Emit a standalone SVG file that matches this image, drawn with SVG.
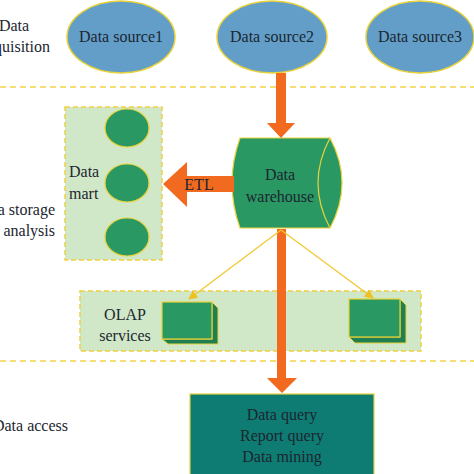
<svg xmlns="http://www.w3.org/2000/svg" width="474" height="474" viewBox="0 0 474 474">
<defs>
<style>
.t{font-size:16px;fill:#1c2630}
.src{fill:#639ec9;stroke:#e8d23a;stroke-width:1.5}
.grp{fill:#d1e8c8;stroke:#f0d040;stroke-width:1.5;stroke-dasharray:5,3}
.g{fill:#2a9863;stroke:#e8d23a;stroke-width:1.2}
.sep{stroke:#f2d24a;stroke-width:1.3;stroke-dasharray:6,4;fill:none}
.or{fill:#f26a1f}
.yl{stroke:#f0c830;stroke-width:1.3;fill:none}
</style>
<marker id="ya" viewBox="0 0 10 10" refX="9" refY="5" markerWidth="7" markerHeight="7" orient="auto">
<path d="M0,0 L10,5 L0,10 z" fill="#f0c020"/>
</marker>
</defs>
<rect width="474" height="474" fill="#ffffff"/>
<g font-family="Liberation Serif, DejaVu Serif, serif">
<g id="separators">
<line class="sep" x1="0" y1="87" x2="474" y2="87"/>
<line class="sep" x1="0" y1="361" x2="474" y2="361"/>
</g>

<g id="layer-labels">
<text class="t" x="14" y="31" text-anchor="middle">Data</text>
<text class="t" x="50" y="52" text-anchor="end">acquisition</text>
<text class="t" x="55" y="215" text-anchor="end">Data storage</text>
<text class="t" x="55" y="236" text-anchor="end">and analysis</text>
<text class="t" x="68" y="431" text-anchor="end">Data access</text>
</g>

<g id="source1">
<ellipse class="src" cx="121" cy="37" rx="54" ry="36"/>
<text class="t" x="121" y="42" text-anchor="middle">Data source1</text>
</g>
<g id="source2">
<ellipse class="src" cx="272" cy="37" rx="55" ry="36"/>
<text class="t" x="272" y="42" text-anchor="middle">Data source2</text>
</g>
<g id="source3">
<ellipse class="src" cx="420" cy="37" rx="54" ry="36"/>
<text class="t" x="420" y="42" text-anchor="middle">Data source3</text>
</g>

<g id="datamart">
<rect class="grp" x="65" y="107" width="97" height="153"/>
<ellipse class="g" cx="127" cy="128" rx="22" ry="19"/>
<ellipse class="g" cx="127" cy="183" rx="22" ry="19"/>
<ellipse class="g" cx="127" cy="237" rx="22" ry="19"/>
<text class="t" x="69" y="177">Data</text>
<text class="t" x="69" y="199">mart</text>
</g>

<g id="olap">
<rect class="grp" x="80" y="291" width="341" height="60"/>
<text class="t" x="125" y="320" text-anchor="middle">OLAP</text>
<text class="t" x="125" y="341" text-anchor="middle">services</text>
<g id="cube1">
<path d="M212,302 L218,308 L218,344 L168,344 L162,339 L212,339 Z" fill="#1f7f52" stroke="#e8d23a" stroke-width="1"/>
<rect class="g" x="162" y="302" width="50" height="37"/>
</g>
<g id="cube2">
<path d="M400,299 L406,305 L406,343 L355,343 L349,337 L400,337 Z" fill="#1f7f52" stroke="#e8d23a" stroke-width="1"/>
<rect class="g" x="349" y="299" width="51" height="38"/>
</g>
</g>

<g id="warehouse">
<path class="g" d="M240,138 L330,138 Q354,183 330,228 L240,228 Q224,183 240,138 Z"/>
<path d="M330,138 Q306,183 330,228" fill="none" stroke="#e8d23a" stroke-width="1.2"/>
<text class="t" x="280" y="180" text-anchor="middle">Data</text>
<text class="t" x="280" y="202" text-anchor="middle">warehouse</text>
</g>

<g id="access">
<rect x="190" y="394" width="184" height="90" fill="#0e7c73" stroke="#e8d23a" stroke-width="1.2"/>
<text class="t" x="282" y="420" text-anchor="middle">Data query</text>
<text class="t" x="282" y="441" text-anchor="middle">Report query</text>
<text class="t" x="282" y="462" text-anchor="middle">Data mining</text>
</g>

<g id="connectors">
<path class="or" d="M276,73 L286,73 L286,123 L295,123 L281,138 L267,123 L276,123 Z"/>
<path class="or" d="M234,176 L187,176 L187,162 L163,184 L187,207 L187,192 L234,192 Z"/>
<text class="t" x="199" y="190" text-anchor="middle">ETL</text>
<path class="or" d="M277,229 L286,229 L286,378 L297,378 L282,393 L267,378 L277,378 Z"/>
<line class="yl" x1="281" y1="230" x2="189" y2="299" marker-end="url(#ya)"/>
<line class="yl" x1="281" y1="230" x2="373" y2="298" marker-end="url(#ya)"/>
</g>
</g>
</svg>
